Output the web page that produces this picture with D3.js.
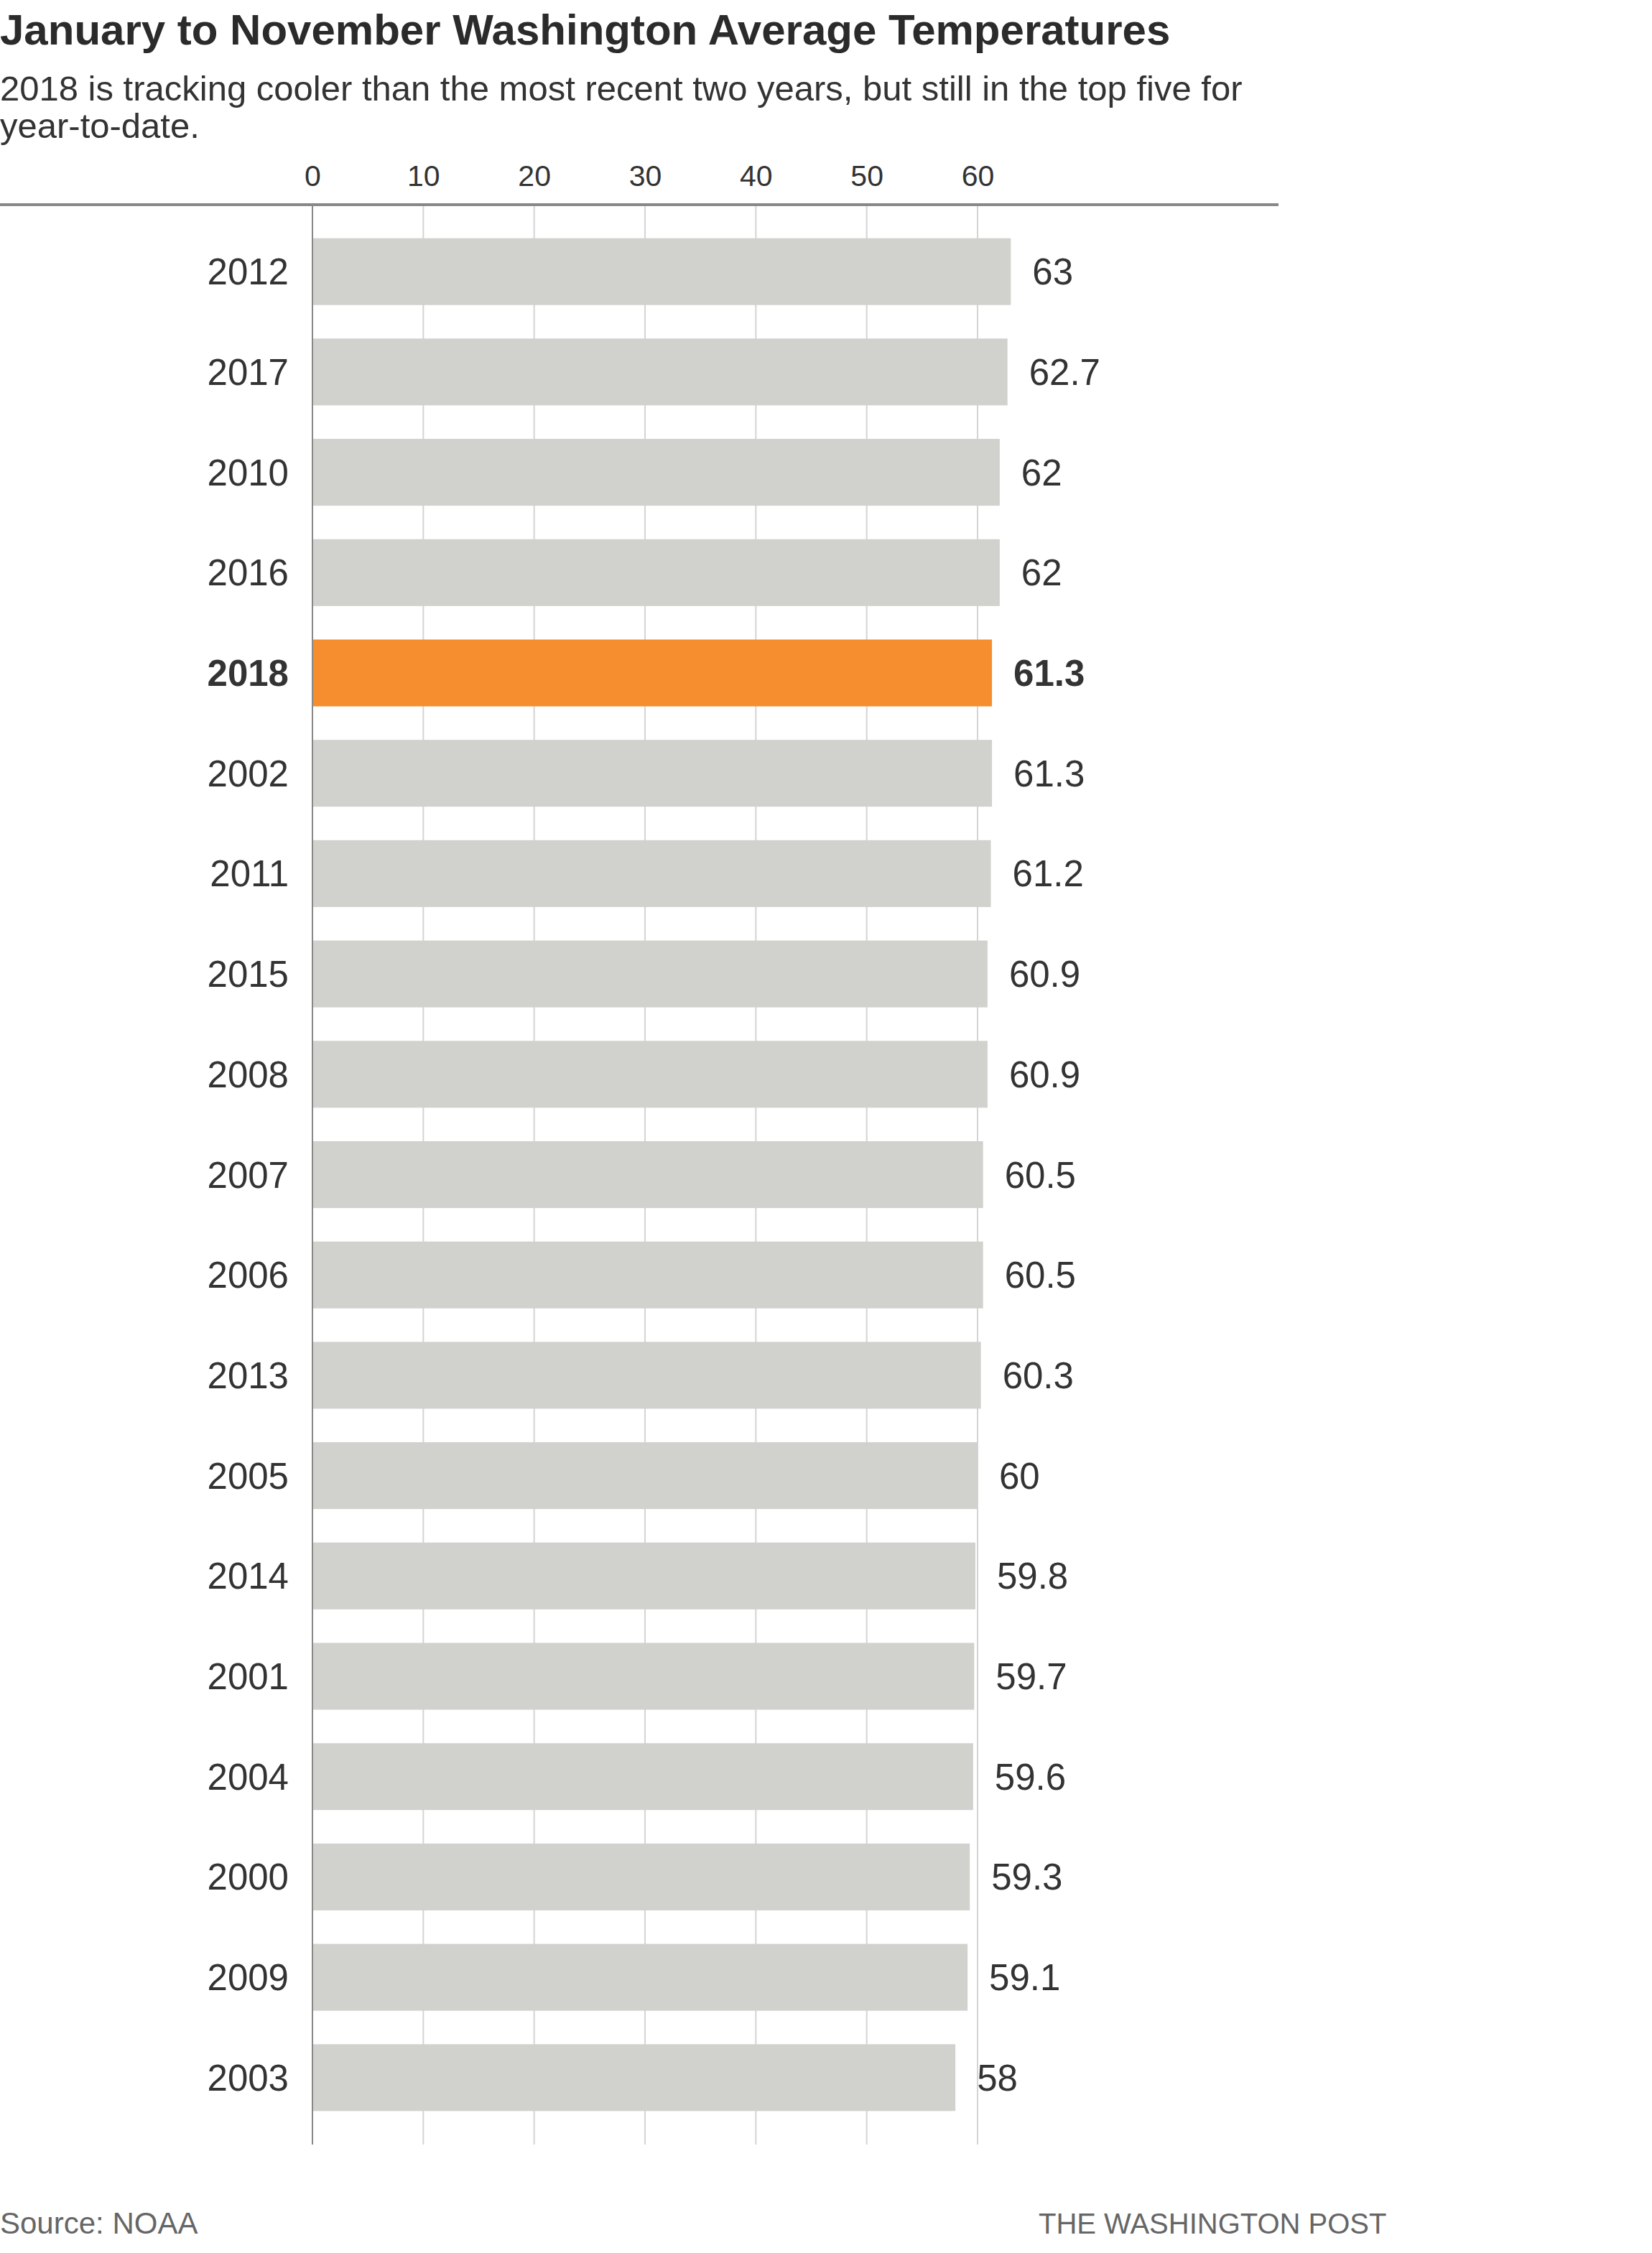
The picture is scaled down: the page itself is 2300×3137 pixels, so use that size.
<!DOCTYPE html>
<html>
<head>
<meta charset="utf-8">
<script src="https://cdn.jsdelivr.net/npm/d3@7"></script>
<style>
  body { margin: 0; background: #fff; }
  text { font-family: "Liberation Sans", Arial, sans-serif; }
</style>
</head>
<body>
<div id="chart"></div>
<script>
var years = ["2012", "2017", "2010", "2016", "2018", "2002", "2011", "2015", "2008", "2007",
             "2006", "2013", "2005", "2014", "2001", "2004", "2000", "2009", "2003"];
var temps = [63, 62.7, 62, 62, 61.3, 61.3, 61.2, 60.9, 60.9, 60.5,
             60.5, 60.3, 60, 59.8, 59.7, 59.6, 59.3, 59.1, 58];
var tickValues = [0, 10, 20, 30, 40, 50, 60];
var highlightYear = "2018";

var rows = years.map(function(y, i) { return { year: y, temp: temps[i] }; });

var svg = d3.select("#chart").append("svg")
            .attr("width", 2300)
            .attr("height", 3137);

svg.append("rect").attr("width", 2300).attr("height", 3137).attr("fill", "#fff");

var x = d3.scaleLinear().domain([0, 60]).range([435, 1361]);
var y = d3.scaleBand().domain(years).range([285, 2986]).paddingInner(0.334).paddingOuter(0.334);

// title + subtitle
svg.append("text")
   .attr("x", 0).attr("y", 62)
   .attr("font-size", 60).attr("font-weight", "bold").attr("fill", "#2b2b2b")
   .text("January to November Washington Average Temperatures");

var sub = svg.append("text").attr("font-size", 49).attr("fill", "#333");
sub.append("tspan").attr("x", 0).attr("y", 140)
   .text("2018 is tracking cooler than the most recent two years, but still in the top five for");
sub.append("tspan").attr("x", 0).attr("y", 192).text("year-to-date.");

// grid
svg.append("g").selectAll("line")
   .data(tickValues.slice(1))
   .enter().append("line")
   .attr("x1", function(d) { return x(d); })
   .attr("x2", function(d) { return x(d); })
   .attr("y1", 285).attr("y2", 2986)
   .attr("stroke", "#d4d4d4").attr("stroke-width", 2);

// top axis labels
var xAxis = svg.append("g")
   .attr("transform", "translate(0,259)")
   .call(d3.axisTop(x).tickValues(tickValues).tickSize(0).tickPadding(0));
xAxis.select(".domain").remove();
xAxis.selectAll("text")
   .attr("font-size", 41).attr("fill", "#333")
   .attr("font-family", "Liberation Sans, Arial, sans-serif")
   .attr("dy", 0);

// bars
svg.append("g").selectAll("rect")
   .data(rows)
   .enter().append("rect")
   .attr("x", x(0))
   .attr("y", function(d) { return y(d.year); })
   .attr("width", function(d) { return x(d.temp) - x(0); })
   .attr("height", y.bandwidth())
   .attr("fill", function(d) { return d.year === highlightYear ? "#f68d2e" : "#d1d2cd"; });

// zero line and top rule
svg.append("line")
   .attr("x1", x(0)).attr("x2", x(0)).attr("y1", 285).attr("y2", 2986)
   .attr("stroke", "#888").attr("stroke-width", 2);
svg.append("line")
   .attr("x1", 0).attr("x2", 1780).attr("y1", 285).attr("y2", 285)
   .attr("stroke", "#888").attr("stroke-width", 4);

// year labels
svg.append("g").selectAll("text")
   .data(rows)
   .enter().append("text")
   .attr("x", x(0) - 33)
   .attr("y", function(d) { return y(d.year) + y.bandwidth() / 2 + 18; })
   .attr("text-anchor", "end")
   .attr("font-size", 51)
   .attr("font-weight", function(d) { return d.year === highlightYear ? "bold" : "normal"; })
   .attr("fill", "#333")
   .text(function(d) { return d.year; });

// value labels
svg.append("g").selectAll("text")
   .data(rows)
   .enter().append("text")
   .attr("x", function(d) { return x(d.temp) + 30; })
   .attr("y", function(d) { return y(d.year) + y.bandwidth() / 2 + 18; })
   .attr("font-size", 51)
   .attr("font-weight", function(d) { return d.year === highlightYear ? "bold" : "normal"; })
   .attr("fill", "#333")
   .text(function(d) { return d.temp; });

// footer
svg.append("text")
   .attr("x", 0).attr("y", 3110)
   .attr("font-size", 42).attr("fill", "#666")
   .text("Source: NOAA");
svg.append("text")
   .attr("x", 1446).attr("y", 3110)
   .attr("font-size", 40).attr("fill", "#666")
   .text("THE WASHINGTON POST");
</script>
</body>
</html>
